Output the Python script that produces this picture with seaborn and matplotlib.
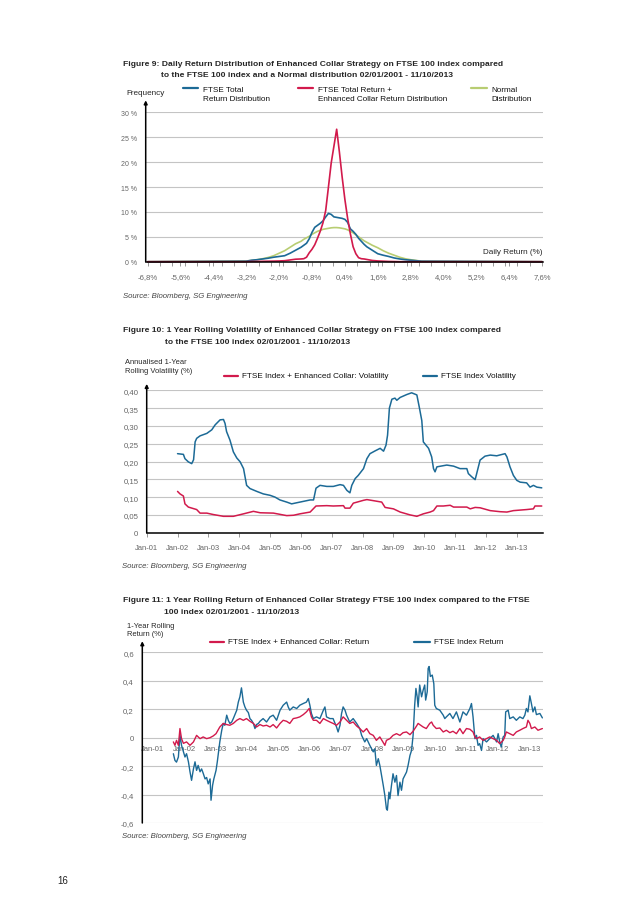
import numpy as np
import pandas as pd
import matplotlib.pyplot as plt
import seaborn as sns
from matplotlib.ticker import FixedLocator

# ==========================================================
# Data - Figure 9 (daily return distribution, % frequency)
# ==========================================================
ret_bins = [-6.8, -3.2, -3.0, -2.8, -2.6, -2.4, -2.2, -2.0, -1.8, -1.6, -1.4, -1.2,
            -1.1, -1.0, -0.9, -0.8, -0.7, -0.6, -0.5, -0.4, -0.3, -0.2, -0.1, 0.0,
            0.1, 0.2, 0.3, 0.4, 0.5, 0.6, 0.7, 0.8, 0.9, 1.0, 1.1, 1.2,
            1.4, 1.6, 1.8, 2.0, 2.2, 2.4, 2.6, 2.8, 3.0, 3.2, 7.6]
freq_ftse = [0, 0.1, 0.3, 0.4, 0.55, 0.7, 0.9, 1.05, 1.2, 1.7, 2.3, 2.9,
             3.3, 3.7, 4.6, 5.9, 6.9, 7.3, 7.7, 8.2, 9.0, 9.7, 9.5, 9.0,
             8.9, 8.8, 8.7, 8.5, 7.9, 6.6, 6.1, 5.5, 4.7, 4.1, 3.5, 3.0,
             2.3, 1.6, 1.3, 1.05, 0.75, 0.55, 0.4, 0.3, 0.2, 0.1, 0]
freq_collar = [0, 0, 0.05, 0.05, 0.08, 0.1, 0.12, 0.15, 0.2, 0.35, 0.5, 0.55,
               0.6, 0.9, 1.8, 2.5, 3.4, 4.7, 6.1, 7.8, 10.3, 15.0, 19.8, 23.2,
               26.6, 22.0, 17.0, 12.5, 8.7, 5.6, 3.0, 1.6, 0.8, 0.6, 0.55, 0.45,
               0.25, 0.15, 0.1, 0.05, 0.03, 0, 0, 0, 0, 0, 0]
freq_normal = [0, 0.15, 0.25, 0.4, 0.6, 0.85, 1.2, 1.7, 2.2, 2.9, 3.6, 4.1,
               4.5, 4.8, 5.1, 5.5, 5.8, 6.1, 6.3, 6.5, 6.6, 6.7, 6.8, 6.85,
               6.85, 6.8, 6.7, 6.6, 6.4, 6.1, 5.8, 5.4, 5.0, 4.6, 4.2, 3.9,
               3.3, 2.8, 2.2, 1.7, 1.3, 0.9, 0.6, 0.4, 0.25, 0.1, 0]
dist_ticks = [-6.8, -5.6, -4.4, -3.2, -2.0, -0.8, 0.4, 1.6, 2.8, 4.0, 5.2, 6.4, 7.6]
dist_labels = ["-6,8%", "-5,6%", "-4,4%", "-3,2%", "-2,0%", "-0,8%", "0,4%",
               "1,6%", "2,8%", "4,0%", "5,2%", "6,4%", "7,6%"]

# ==========================================================
# Data - Figure 10 (1y rolling volatility)
# ==========================================================
vol_idx_years = [2002.00, 2002.19, 2002.24, 2002.35, 2002.46, 2002.52, 2002.57, 2002.62, 2002.73,
                 2002.95, 2003.11, 2003.22, 2003.38, 2003.49, 2003.54, 2003.59, 2003.70, 2003.81,
                 2003.92, 2004.03, 2004.14, 2004.24, 2004.35, 2004.57, 2004.78, 2005.00, 2005.16,
                 2005.32, 2005.54, 2005.70, 2005.86, 2006.08, 2006.30, 2006.41, 2006.49, 2006.62,
                 2006.84, 2007.05, 2007.27, 2007.38, 2007.49, 2007.59, 2007.65, 2007.76, 2007.86,
                 2008.03, 2008.14, 2008.24, 2008.41, 2008.57, 2008.68, 2008.76, 2008.81, 2008.87,
                 2008.95, 2009.05, 2009.11, 2009.22, 2009.43, 2009.59, 2009.76, 2009.84, 2009.92,
                 2009.97, 2010.14, 2010.24, 2010.30, 2010.35, 2010.41, 2010.73, 2010.95, 2011.16,
                 2011.38, 2011.43, 2011.54, 2011.65, 2011.70, 2011.81, 2011.97, 2012.14, 2012.35,
                 2012.62, 2012.68, 2012.78, 2012.89, 2013.00, 2013.11, 2013.32, 2013.43, 2013.54,
                 2013.65, 2013.81]
vol_idx = [0.222, 0.220, 0.208, 0.199, 0.194, 0.205, 0.255, 0.265, 0.272,
           0.279, 0.289, 0.303, 0.317, 0.318, 0.307, 0.284, 0.260, 0.227,
           0.210, 0.199, 0.180, 0.133, 0.124, 0.116, 0.109, 0.105, 0.100,
           0.092, 0.086, 0.081, 0.084, 0.088, 0.092, 0.092, 0.125, 0.133,
           0.130, 0.130, 0.135, 0.133, 0.119, 0.112, 0.133, 0.152, 0.161,
           0.180, 0.208, 0.222, 0.230, 0.237, 0.229, 0.246, 0.274, 0.350,
           0.375, 0.378, 0.372, 0.380, 0.388, 0.393, 0.387, 0.352, 0.315,
           0.255, 0.237, 0.213, 0.180, 0.171, 0.185, 0.190, 0.187, 0.180,
           0.180, 0.166, 0.157, 0.149, 0.166, 0.204, 0.215, 0.218, 0.216,
           0.222, 0.213, 0.185, 0.161, 0.147, 0.142, 0.140, 0.128, 0.133,
           0.128, 0.126]
vol_col_years = [2002.00, 2002.08, 2002.19, 2002.24, 2002.35, 2002.62, 2002.73, 2002.95, 2003.16,
                 2003.49, 2003.81, 2004.14, 2004.46, 2004.68, 2005.11, 2005.54, 2005.76, 2005.97,
                 2006.30, 2006.49, 2006.84, 2007.05, 2007.38, 2007.43, 2007.59, 2007.70, 2008.03,
                 2008.14, 2008.35, 2008.62, 2008.73, 2009.00, 2009.22, 2009.54, 2009.76, 2009.97,
                 2010.19, 2010.30, 2010.41, 2010.62, 2010.84, 2010.95, 2011.38, 2011.49, 2011.65,
                 2011.81, 2012.14, 2012.46, 2012.68, 2012.89, 2013.32, 2013.54, 2013.59, 2013.81]
vol_col = [0.116, 0.109, 0.103, 0.081, 0.072, 0.065, 0.055, 0.055, 0.051,
           0.046, 0.046, 0.053, 0.060, 0.056, 0.055, 0.048, 0.049, 0.053,
           0.058, 0.075, 0.076, 0.075, 0.076, 0.069, 0.069, 0.083, 0.091,
           0.093, 0.090, 0.086, 0.071, 0.067, 0.058, 0.050, 0.046, 0.053,
           0.058, 0.062, 0.075, 0.075, 0.077, 0.072, 0.072, 0.067, 0.071,
           0.070, 0.062, 0.059, 0.058, 0.062, 0.065, 0.067, 0.075, 0.075]

# ==========================================================
# Data - Figure 11 (1y rolling return)
# ==========================================================
ret_idx_years = [2001.99, 2002.04, 2002.09, 2002.15, 2002.20, 2002.25, 2002.31, 2002.36, 2002.41,
                 2002.47, 2002.52, 2002.57, 2002.63, 2002.68, 2002.73, 2002.78, 2002.84, 2002.89,
                 2002.94, 2003.00, 2003.05, 2003.10, 2003.16, 2003.19, 2003.24, 2003.28, 2003.35,
                 2003.39, 2003.43, 2003.47, 2003.53, 2003.58, 2003.63, 2003.69, 2003.74, 2003.79,
                 2003.85, 2003.90, 2004.01, 2004.06, 2004.11, 2004.16, 2004.22, 2004.27, 2004.32,
                 2004.38, 2004.43, 2004.48, 2004.54, 2004.59, 2004.64, 2004.70, 2004.75, 2004.85,
                 2004.96, 2005.07, 2005.17, 2005.28, 2005.39, 2005.49, 2005.60, 2005.65, 2005.70,
                 2005.81, 2005.92, 2006.02, 2006.13, 2006.23, 2006.29, 2006.34, 2006.39, 2006.45,
                 2006.55, 2006.66, 2006.77, 2006.82, 2006.87, 2006.98, 2007.08, 2007.19, 2007.24,
                 2007.30, 2007.35, 2007.40, 2007.46, 2007.51, 2007.61, 2007.72, 2007.83, 2007.93,
                 2007.99, 2008.04, 2008.09, 2008.15, 2008.25, 2008.36, 2008.41, 2008.46, 2008.52,
                 2008.57, 2008.68, 2008.73, 2008.78, 2008.81, 2008.86, 2008.89, 2008.94, 2008.99,
                 2009.05, 2009.10, 2009.15, 2009.21, 2009.26, 2009.31, 2009.42, 2009.47, 2009.53,
                 2009.58, 2009.63, 2009.68, 2009.72, 2009.76, 2009.79, 2009.84, 2009.90, 2009.95,
                 2010.00, 2010.03, 2010.08, 2010.11, 2010.14, 2010.18, 2010.24, 2010.29, 2010.32,
                 2010.37, 2010.48, 2010.59, 2010.64, 2010.69, 2010.80, 2010.90, 2011.01, 2011.12,
                 2011.22, 2011.33, 2011.44, 2011.49, 2011.54, 2011.60, 2011.65, 2011.70, 2011.75,
                 2011.81, 2011.86, 2011.97, 2012.07, 2012.18, 2012.29, 2012.34, 2012.39, 2012.44,
                 2012.50, 2012.55, 2012.58, 2012.66, 2012.71, 2012.82, 2012.92, 2013.03, 2013.13,
                 2013.19, 2013.24, 2013.29, 2013.35, 2013.40, 2013.45, 2013.51, 2013.56, 2013.67,
                 2013.75]
ret_idx = [-0.113, -0.160, -0.172, -0.136, 0.020, -0.054, -0.100, -0.136, -0.113,
           -0.170, -0.240, -0.300, -0.220, -0.170, -0.230, -0.195, -0.240, -0.220,
           -0.250, -0.290, -0.280, -0.325, -0.290, -0.440, -0.335, -0.290, -0.230,
           -0.170, -0.100, -0.030, 0.050, 0.100, 0.087, 0.158, 0.122, 0.100,
           0.110, 0.134, 0.193, 0.250, 0.287, 0.350, 0.250, 0.216, 0.193,
           0.176, 0.134, 0.122, 0.100, 0.064, 0.092, 0.100, 0.115, 0.134,
           0.110, 0.146, 0.158, 0.122, 0.193, 0.228, 0.250, 0.216, 0.193,
           0.216, 0.205, 0.228, 0.240, 0.250, 0.275, 0.228, 0.170, 0.134,
           0.146, 0.134, 0.193, 0.216, 0.146, 0.134, 0.134, 0.075, 0.040,
           0.087, 0.170, 0.216, 0.193, 0.158, 0.110, 0.134, 0.100, 0.064,
           0.016, -0.007, -0.030, -0.007, -0.054, -0.100, -0.078, -0.195, -0.148,
           -0.195, -0.337, -0.407, -0.500, -0.510, -0.383, -0.430, -0.337, -0.254,
           -0.313, -0.266, -0.407, -0.313, -0.370, -0.290, -0.242, -0.195, -0.125,
           -0.090, 0.016, 0.228, 0.346, 0.287, 0.216, 0.370, 0.287, 0.334,
           0.370, 0.264, 0.322, 0.487, 0.500, 0.430, 0.440, 0.380, 0.228,
           0.205, 0.193, 0.158, 0.134, 0.146, 0.170, 0.134, 0.181, 0.110,
           0.181, 0.158, 0.205, 0.240, 0.146, -0.007, 0.016, -0.054, -0.042,
           -0.090, -0.007, -0.030, -0.007, 0.016, -0.030, 0.028, -0.030, -0.066,
           0.005, 0.016, 0.181, 0.193, 0.134, 0.146, 0.122, 0.146, 0.134,
           0.158, 0.205, 0.181, 0.294, 0.240, 0.181, 0.216, 0.162, 0.170,
           0.139]
ret_col_years = [2001.99, 2002.04, 2002.09, 2002.15, 2002.20, 2002.25, 2002.31, 2002.41, 2002.52,
                 2002.63, 2002.73, 2002.84, 2002.94, 2003.05, 2003.16, 2003.26, 2003.35, 2003.47,
                 2003.58, 2003.69, 2003.79, 2003.90, 2004.01, 2004.11, 2004.22, 2004.32, 2004.43,
                 2004.54, 2004.64, 2004.75, 2004.85, 2004.96, 2005.07, 2005.17, 2005.28, 2005.39,
                 2005.49, 2005.60, 2005.70, 2005.81, 2005.92, 2006.02, 2006.13, 2006.23, 2006.32,
                 2006.39, 2006.45, 2006.55, 2006.66, 2006.77, 2006.87, 2006.98, 2007.08, 2007.19,
                 2007.30, 2007.40, 2007.51, 2007.61, 2007.72, 2007.83, 2007.93, 2008.04, 2008.15,
                 2008.25, 2008.36, 2008.46, 2008.57, 2008.68, 2008.73, 2008.78, 2008.89, 2008.99,
                 2009.10, 2009.21, 2009.31, 2009.42, 2009.53, 2009.63, 2009.74, 2009.79, 2009.84,
                 2009.95, 2010.05, 2010.16, 2010.22, 2010.27, 2010.37, 2010.48, 2010.59, 2010.69,
                 2010.80, 2010.90, 2011.01, 2011.12, 2011.22, 2011.33, 2011.44, 2011.54, 2011.60,
                 2011.65, 2011.75, 2011.86, 2011.97, 2012.07, 2012.18, 2012.29, 2012.39, 2012.50,
                 2012.55, 2012.60, 2012.71, 2012.82, 2012.92, 2013.03, 2013.13, 2013.24, 2013.29,
                 2013.35, 2013.40, 2013.51, 2013.61, 2013.75]
ret_col = [-0.030, -0.054, -0.019, -0.054, 0.064, -0.007, -0.040, -0.030, -0.054,
           -0.030, 0.016, -0.007, 0.005, -0.007, 0.000, 0.012, 0.028, 0.075,
           0.100, 0.092, 0.087, 0.100, 0.122, 0.134, 0.122, 0.134, 0.115,
           0.100, 0.075, 0.092, 0.082, 0.087, 0.075, 0.092, 0.068, 0.100,
           0.122, 0.115, 0.100, 0.134, 0.139, 0.146, 0.162, 0.181, 0.205,
           0.146, 0.122, 0.122, 0.100, 0.134, 0.122, 0.110, 0.100, 0.087,
           0.110, 0.146, 0.122, 0.100, 0.110, 0.082, 0.064, 0.040, 0.064,
           0.028, 0.016, -0.019, 0.005, -0.035, -0.054, -0.019, -0.007, 0.016,
           0.028, 0.016, 0.035, 0.040, 0.021, 0.045, 0.082, 0.100, 0.092,
           0.075, 0.064, 0.100, 0.110, 0.087, 0.064, 0.068, 0.040, 0.052,
           0.035, 0.045, 0.028, 0.064, 0.028, 0.064, 0.059, 0.040, 0.005,
           -0.007, 0.005, -0.019, -0.007, 0.005, -0.007, -0.019, -0.042, -0.019,
           0.005, 0.040, 0.028, 0.016, 0.040, 0.052, 0.064, 0.075, 0.122,
           0.100, 0.064, 0.075, 0.052, 0.064]

years = [2001, 2002, 2003, 2004, 2005, 2006, 2007, 2008, 2009, 2010, 2011, 2012, 2013]
year_labels = ["Jan-01", "Jan-02", "Jan-03", "Jan-04", "Jan-05", "Jan-06", "Jan-07",
               "Jan-08", "Jan-09", "Jan-10", "Jan-11", "Jan-12", "Jan-13"]

# ==========================================================
# Style
# ==========================================================
BLUE = "#1c6a96"
RED = "#d21a4c"
GREEN = "#b8cd72"
GRID = "#c4c4c4"
TICK = "#666666"

TITLE_FS = 6.1
LEG_FS = 5.9

sns.set_theme(style="white")
plt.rcParams["font.family"] = ["Liberation Sans Narrow", "Liberation Sans", "DejaVu Sans"]

W, H = 638, 903
fig = plt.figure(figsize=(W / 100, H / 100), dpi=100)


def box(l, t, r, b):
    return [l / W, 1 - b / H, (r - l) / W, (b - t) / H]


def txt(x, y, s, **kw):
    kw.setdefault("va", "center")
    fig.text(x / W, 1 - y / H, s, **kw)


def legend_item(x0, x1, y, color, label, lines=1):
    fig.add_artist(plt.Line2D([x0 / W, x1 / W], [1 - y / H] * 2, color=color, lw=1.6))
    txt(x1 + 4.5, y + (lines - 1) * 5.7, label, fontsize=LEG_FS, color="#111111",
        linespacing=1.3)


def prep_axes(ax, yticks, ylabels, arrow_top):
    ax.set_yticks(yticks)
    ax.set_yticklabels(ylabels)
    for yv in yticks:
        ax.axhline(yv, color=GRID, lw=0.8, zorder=0)
    for s in ["top", "right", "left"]:
        ax.spines[s].set_visible(False)
    ax.tick_params(axis="y", length=0, labelsize=5.6, labelcolor=TICK, pad=6)
    ax.annotate("", xy=(0, arrow_top), xytext=(0, 0), xycoords="axes fraction",
                annotation_clip=False,
                arrowprops=dict(arrowstyle="-|>", color="black", lw=1.1,
                                mutation_scale=5, shrinkA=0, shrinkB=0))
    ax.set_xlabel("")
    ax.set_ylabel("")


# ==========================================================
# Figure 9
# ==========================================================
dist_df = pd.DataFrame({"Return": ret_bins, "FTSE": freq_ftse,
                        "Collar": freq_collar, "Normal": freq_normal})
ax1 = fig.add_axes(box(145.7, 113.3, 542.7, 262.7))
sns.lineplot(data=dist_df, x="Return", y="Normal", color=GREEN, lw=1.2, ax=ax1, clip_on=False)
sns.lineplot(data=dist_df, x="Return", y="FTSE", color=BLUE, lw=1.2, ax=ax1, clip_on=False)
sns.lineplot(data=dist_df, x="Return", y="Collar", color=RED, lw=1.2, ax=ax1, clip_on=False)
ax1.set_xlim(-6.87, 7.62)
ax1.set_ylim(0, 30)
prep_axes(ax1, [0, 5, 10, 15, 20, 25, 30], ["0 %", "5 %", "10 %", "15 %", "20 %", "25 %", "30 %"], 1.08)
ax1.tick_params(axis="y", labelsize=5.0)
ax1.spines["bottom"].set_color("black")
ax1.spines["bottom"].set_linewidth(1.1)
ax1.set_xticks(dist_ticks)
ax1.set_xticklabels(dist_labels)
ax1.xaxis.set_minor_locator(FixedLocator(np.arange(-6.8, 7.7, 0.45)))
ax1.tick_params(axis="x", which="both", bottom=True, direction="out", length=3,
                width=0.6, color="#888888", labelsize=5.6, labelcolor=TICK, pad=5)

txt(122.7, 65, "Figure 9: Daily Return Distribution of Enhanced Collar Strategy on FTSE 100 index compared",
    fontsize=TITLE_FS, fontweight="bold")
txt(160.7, 75.5, "to the FTSE 100 index and a Normal distribution 02/01/2001 - 11/10/2013",
    fontsize=TITLE_FS, fontweight="bold")
txt(126, 93.5, "Frequency", fontsize=5.9)
legend_item(183.3, 198.3, 89.3, BLUE, "FTSE Total\nReturn Distribution", 2)
legend_item(298.3, 313.3, 89.3, RED, "FTSE Total Return +\nEnhanced Collar Return Distribution", 2)
legend_item(470.7, 486.7, 89.3, GREEN, "Normal\nDistribution", 2)
txt(542.7, 252.3, "Daily Return (%)", fontsize=5.9, ha="right")
txt(122.7, 296.7, "Source: Bloomberg, SG Engineering", fontsize=5.6, style="italic", color="#444444")

# ==========================================================
# Figure 10
# ==========================================================
vol_idx_df = pd.DataFrame({"Year": vol_idx_years, "Vol": vol_idx})
vol_col_df = pd.DataFrame({"Year": vol_col_years, "Vol": vol_col})
ax2 = fig.add_axes(box(146.7, 391.3, 543.3, 533.7))
sns.lineplot(data=vol_idx_df, x="Year", y="Vol", color=BLUE, lw=1.1, ax=ax2)
sns.lineplot(data=vol_col_df, x="Year", y="Vol", color=RED, lw=1.1, ax=ax2)
ax2.set_xlim(2001.0, 2013.86)
ax2.set_ylim(0, 0.40)
prep_axes(ax2, [0, 0.05, 0.10, 0.15, 0.20, 0.25, 0.30, 0.35, 0.40],
          ["0", "0,05", "0,10", "0,15", "0,20", "0,25", "0,30", "0,35", "0,40"], 1.045)
ax2.spines["bottom"].set_color("black")
ax2.spines["bottom"].set_linewidth(1.1)
ax2.set_xticks(years)
ax2.set_xticklabels(year_labels)
ax2.tick_params(axis="x", bottom=True, direction="out", length=3, width=0.6,
                color="#888888", labelsize=5.5, labelcolor=TICK, pad=5)

txt(122.7, 330.7, "Figure 10: 1 Year Rolling Volatility of Enhanced Collar Strategy on FTSE 100 index compared",
    fontsize=TITLE_FS, fontweight="bold")
txt(165, 342.7, "to the FTSE 100 index 02/01/2001 - 11/10/2013", fontsize=TITLE_FS, fontweight="bold")
txt(125, 367, "Annualised 1-Year\nRolling Volatility (%)", fontsize=5.4, linespacing=1.35)
legend_item(224, 237.7, 376.7, RED, "FTSE Index + Enhanced Collar: Volatility")
legend_item(422.7, 436.7, 376.7, BLUE, "FTSE Index Volatility")
txt(121.7, 566, "Source: Bloomberg, SG Engineering", fontsize=5.6, style="italic", color="#444444")

# ==========================================================
# Figure 11
# ==========================================================
ret_idx_df = pd.DataFrame({"Year": ret_idx_years, "Return": ret_idx})
ret_col_df = pd.DataFrame({"Year": ret_col_years, "Return": ret_col})
ax3 = fig.add_axes(box(142.3, 653.3, 542.7, 824))
sns.lineplot(data=ret_idx_df, x="Year", y="Return", color=BLUE, lw=1.0, ax=ax3)
sns.lineplot(data=ret_col_df, x="Year", y="Return", color=RED, lw=1.0, ax=ax3)
ax3.set_xlim(2001.0, 2013.76)
ax3.set_ylim(-0.6, 0.6)
prep_axes(ax3, [-0.6, -0.4, -0.2, 0, 0.2, 0.4, 0.6],
          ["-0,6", "-0,4", "-0,2", "0", "0,2", "0,4", "0,6"], 1.065)
ax3.spines["bottom"].set_position(("data", 0))
ax3.spines["bottom"].set_visible(False)
ax3.set_xticks([y + 0.33 for y in years])
ax3.set_xticklabels(year_labels)
ax3.tick_params(axis="x", bottom=True, length=0, labelsize=5.5, labelcolor=TICK, pad=5)

txt(122.7, 601, "Figure 11: 1 Year Rolling Return of Enhanced Collar Strategy FTSE 100 index compared to the FTSE",
    fontsize=TITLE_FS, fontweight="bold")
txt(164.3, 612.3, "100 index 02/01/2001 - 11/10/2013", fontsize=TITLE_FS, fontweight="bold")
txt(126.7, 630.5, "1-Year Rolling\nReturn (%)", fontsize=5.4, linespacing=1.35)
legend_item(210, 224, 642.7, RED, "FTSE Index + Enhanced Collar: Return")
legend_item(414, 430, 642.7, BLUE, "FTSE Index Return")
txt(121.7, 836.7, "Source: Bloomberg, SG Engineering", fontsize=5.6, style="italic", color="#444444")

txt(57, 881, "16", fontsize=7.0, color="#222222")

fig.savefig("out.png", dpi=100, facecolor="white")
